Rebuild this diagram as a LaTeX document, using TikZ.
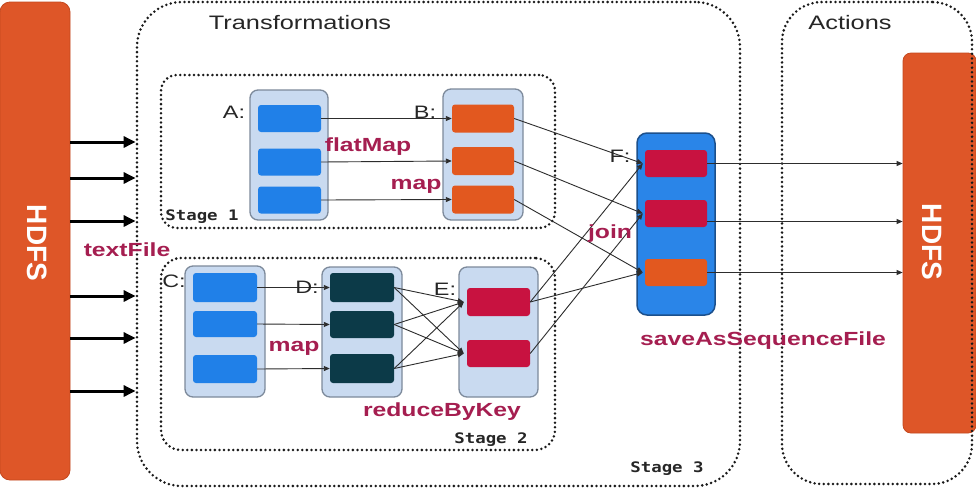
\documentclass[tikz,border=0pt]{standalone}
\usepackage{fontspec}
\usepackage{graphicx}
\setmainfont{Liberation Sans}
\newfontfamily\stagefont{DejaVu Sans Mono}
\usetikzlibrary{arrows.meta}
\definecolor{hdfsc}{RGB}{222,86,40}
\definecolor{hdfsb}{RGB}{196,72,30}
\definecolor{contf}{RGB}{201,218,240}
\definecolor{contb}{RGB}{125,138,155}
\definecolor{blueb}{RGB}{32,128,232}
\definecolor{fblue}{RGB}{42,133,232}
\definecolor{fbord}{RGB}{28,80,140}
\definecolor{orab}{RGB}{226,88,31}
\definecolor{crim}{RGB}{200,18,64}
\definecolor{teal}{RGB}{12,58,72}
\definecolor{lblc}{RGB}{165,30,80}
\definecolor{linec}{RGB}{45,45,45}
\newcommand{\sx}[1]{\scalebox{1.3}[1]{#1}}
\begin{document}
\begin{tikzpicture}[x=1pt,y=1pt,
  frame/.style={draw=black!90, line width=2.8pt, dash pattern=on 0pt off 4.6pt, line cap=round, inner sep=0pt, rounded corners=#1},
  hdfs/.style={fill=hdfsc, draw=hdfsb, line width=0.8pt, rounded corners=10pt, inner sep=0pt},
  hdfstext/.style={text=white, font=\fontsize{28}{30}\selectfont\bfseries, rotate=-90, inner sep=0pt},
  cont/.style={draw=contb, fill=contf, line width=1.3pt, rounded corners=8pt, inner sep=0pt},
  fcont/.style={draw=fbord, fill=fblue, line width=1.5pt, rounded corners=10pt, inner sep=0pt},
  ib/.style={rounded corners=3pt, inner sep=0pt, minimum width=63pt, minimum height=27pt},
  lbl/.style={anchor=base, inner sep=0pt, text=lblc, font=\fontsize{19}{22}\selectfont\bfseries},
  ttl/.style={anchor=base, inner sep=0pt, text=black!85, font=\fontsize{19.5}{22}\selectfont},
  let/.style={anchor=base, inner sep=0pt, text=black!85, font=\fontsize{18}{20}\selectfont},
  stg/.style={anchor=base, inner sep=0pt, text=black!85, font=\fontsize{14.5}{16}\selectfont\stagefont\bfseries},
  thk/.style={line width=3pt, -{Triangle[length=12pt,width=11pt]}},
  tarr/.style={draw=linec, line width=0.9pt, -{Triangle[length=6pt,width=5pt]}}
]
\useasboundingbox (0,0) rectangle (976,-488);
\fill[white] (0,0) rectangle (976,-488);

% frames
\node[frame=45pt, minimum width=603pt, minimum height=484pt] (trans) at (438.5,-244) {};
\node[frame=16pt, minimum width=394pt, minimum height=153pt] (stage1) at (358,-151.5) {};
\node[frame=20pt, minimum width=394pt, minimum height=192pt] (stage2) at (358,-354) {};

% HDFS bars
\node[hdfs, minimum width=70pt, minimum height=478pt] (hdfsL) at (35,-241) {};
\node[hdfstext] (hdfsLt) at (37,-243) {HDFS};
\node[hdfs, rounded corners=8pt, minimum width=73pt, minimum height=380pt] (hdfsR) at (939.5,-243) {};
\node[hdfstext] (hdfsRt) at (932,-242) {HDFS};
\node[frame=40pt, minimum width=190pt, minimum height=482pt] (actions) at (877,-243) {};

% containers
\node[cont, minimum width=78pt, minimum height=130pt] (A) at (289,-155) {};
\node[cont, minimum width=80pt, minimum height=131pt] (B) at (483,-154.5) {};
\node[fcont, minimum width=78pt, minimum height=182pt] (F) at (676,-224) {};
\node[cont, minimum width=80pt, minimum height=131pt] (C) at (225,-331.5) {};
\node[cont, minimum width=80pt, minimum height=130pt] (D) at (362,-332) {};
\node[cont, minimum width=79pt, minimum height=130pt] (E) at (498.5,-332) {};

% inner boxes
\node[ib, fill=blueb] (a1) at (289.5,-118.5) {};
\node[ib, fill=blueb] (a2) at (289.5,-162) {};
\node[ib, fill=blueb] (a3) at (289.5,-200) {};
\node[ib, fill=orab, minimum width=62pt, minimum height=28pt] (b1) at (483,-118.5) {};
\node[ib, fill=orab, minimum width=62pt, minimum height=28pt] (b2) at (483,-161) {};
\node[ib, fill=orab, minimum width=62pt, minimum height=28pt] (b3) at (483,-199.5) {};
\node[ib, fill=crim, minimum width=62pt] (f1) at (676,-163.5) {};
\node[ib, fill=crim, minimum width=62pt] (f2) at (676,-213.5) {};
\node[ib, fill=orab, minimum width=62pt] (f3) at (676,-272.5) {};
\node[ib, fill=blueb, minimum width=64pt, minimum height=29pt] (c1) at (225,-287.5) {};
\node[ib, fill=blueb, minimum width=64pt, minimum height=26pt] (c2) at (225,-324) {};
\node[ib, fill=blueb, minimum width=64pt, minimum height=28pt] (c3) at (225,-369) {};
\node[ib, fill=teal, minimum width=64pt, minimum height=29pt] (d1) at (362,-287.5) {};
\node[ib, fill=teal, minimum width=64pt, minimum height=27pt] (d2) at (362,-324.5) {};
\node[ib, fill=teal, minimum width=64pt, minimum height=29pt] (d3) at (362,-368.5) {};
\node[ib, fill=crim, minimum height=28pt] (e1) at (498.5,-302) {};
\node[ib, fill=crim, minimum height=27pt] (e2) at (498.5,-353.5) {};

% thick input arrows
\foreach \yy in {142,178,221,296,338,391}
  \draw[thk] (hdfsL.east |- 0,-\yy) -- (trans.west |- 0,-\yy);

% A -> B
\draw[tarr] (a1.east) -- (b1.west);
\draw[tarr] (a2.east) -- (b2.west);
\draw[tarr] (a3.east) -- (b3.west);
% C -> D
\draw[tarr] (c1.east) -- (d1.west);
\draw[tarr] (c2.east) -- (d2.west);
\draw[tarr] (c3.east) -- (d3.west);
% D -> E
\foreach \s in {d1,d2,d3}
  \foreach \t in {e1,e2}
    \draw[tarr] (\s.east) -- ([xshift=-3pt]\t.west);
% B -> F
\draw[tarr] (b1.east) -- ([xshift=-2pt]f1.west);
\draw[tarr] (b2.east) -- ([xshift=-2pt]f2.west);
\draw[tarr] (b3.east) -- ([xshift=-2pt]f3.west);
% E -> F
\draw[tarr] (e1.east) -- ([xshift=-2pt]f1.west);
\draw[tarr] (e1.east) -- ([xshift=-2pt]f3.west);
\draw[tarr] (e2.east) -- ([xshift=-2pt]f2.west);
% F -> HDFS
\coordinate (f2o) at ([yshift=-8pt]f2.east);
\draw[tarr] (f1.east) -- (f1.east -| hdfsR.west);
\draw[tarr] (f2o) -- (f2o -| hdfsR.west);
\draw[tarr] (f3.east) -- (f3.east -| hdfsR.west);

% titles
\node[ttl] (tT) at (300,-29) {\sx{Transformations}};
\node[ttl] (tA) at (850,-29) {\sx{Actions}};

% letters
\node[let] (lA) at (234,-118) {\sx{A:}};
\node[let] (lB) at (425,-118) {\sx{B:}};
\node[let] (lF) at (620,-162) {\sx{F:}};
\node[let] (lC) at (174,-287) {\sx{C:}};
\node[let] (lD) at (307,-293) {\sx{D:}};
\node[let] (lE) at (445,-295) {\sx{E:}};

% operation labels
\node[lbl] (ltf) at (127,-256) {\sx{textFile}};
\node[lbl] (lfm) at (368,-151) {\sx{flatMap}};
\node[lbl] (lm1) at (416,-189) {\sx{map}};
\node[lbl] (lm2) at (294,-351) {\sx{map}};
\node[lbl] (lrk) at (442,-416) {\sx{reduceByKey}};
\node[lbl] (ljn) at (610,-238) {\sx{join}};
\node[lbl] (lsv) at (763,-345) {\sx{saveAsSequenceFile}};

% stage labels
\node[stg] (s1) at (202,-220) {\scalebox{1.2}[1]{Stage 1}};
\node[stg] (s2) at (491,-443) {\scalebox{1.2}[1]{Stage 2}};
\node[stg] (s3) at (667,-472) {\scalebox{1.2}[1]{Stage 3}};
\end{tikzpicture}
\end{document}
